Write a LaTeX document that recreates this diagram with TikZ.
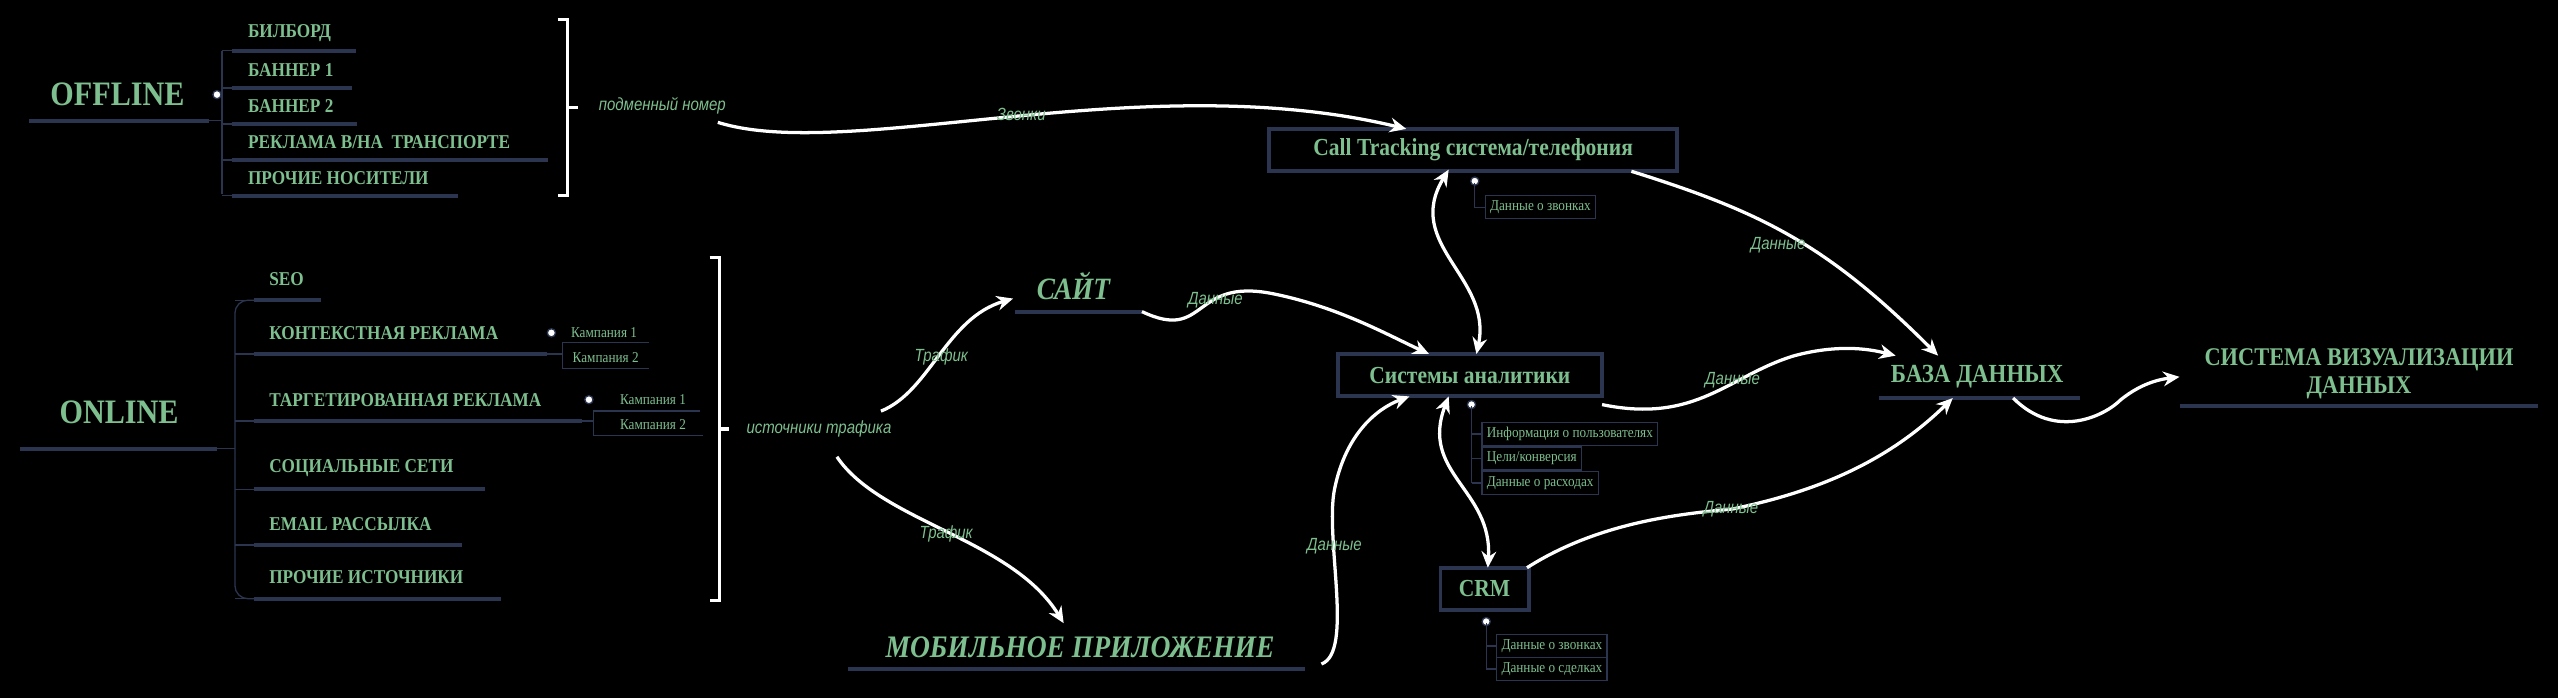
\documentclass[tikz,border=0pt]{standalone}
\usepackage{fontspec}
\setmainfont{Liberation Serif}[FakeStretch=0.88]
\newfontfamily\lblfont{Liberation Sans}[FakeStretch=0.85]
\usetikzlibrary{arrows.meta}
\definecolor{txt}{HTML}{7DBF8E}
\definecolor{nv}{HTML}{2B3550}
\tikzset{
 x=0.5pt,y=-0.5pt,
 big/.style={text=txt,font=\fontsize{10.5}{11}\selectfont\bfseries},
 item/.style={text=txt,font=\fontsize{6}{6.5}\selectfont\bfseries,anchor=west},
 small/.style={text=txt,font=\fontsize{4.6}{5}\selectfont,anchor=west},
 box/.style={draw=nv,line width=1.2pt,text=txt,font=\fontsize{7.5}{8}\selectfont\bfseries,minimum height=13pt,inner sep=2pt},
 sbox/.style={draw=nv,line width=0.4pt,text=txt,font=\fontsize{4.6}{5}\selectfont,anchor=west,inner sep=1.5pt,minimum height=6.2pt},
 ul/.style={nv,line width=1.2pt},
 br/.style={nv,line width=0.4pt},
 bul/.style={circle,fill=white,draw=nv,inner sep=0pt,minimum size=2.5pt},
 ar/.style={white,line width=1pt,-{Stealth[length=5pt,width=4.5pt]}},
 dar/.style={white,line width=1pt,{Stealth[length=5pt,width=4.5pt]}-{Stealth[length=5pt,width=4.5pt]}},
 el/.style={text=txt,font=\lblfont\itshape\fontsize{5.4}{6}\selectfont,inner sep=0pt},
 note/.style={text=txt,font=\lblfont\itshape\fontsize{5.4}{6}\selectfont},
}
\begin{document}
\begin{tikzpicture}
\fill[black] (0,0) rectangle (1568,428);
% OFFLINE
\node[big] (off) at (72,58) {OFFLINE};
\draw[ul] (18,74)--(128,74);
\node[bul] (offb) at (133,58) {};
\draw[br] (128,74)--(136,74) (136,31)--(136,119);
\foreach \y/\e/\t in {20/218/БИЛБОРД,43/216/БАННЕР 1,65/219/БАННЕР 2,87/336/{РЕКЛАМА В/НА\ \ ТРАНСПОРТЕ},109/281/ПРОЧИЕ НОСИТЕЛИ}{
  \node[item] at (145,\y) {\t};
  \draw[ul] (142,\y+11)--(\e,\y+11);
  \draw[br] (136,\y+11)--(142,\y+11);
}
\draw[white,line width=1pt] (342,12)--(348,12)--(348,120)--(342,120) (348,66)--(354,66);
\node[note] (sub) at (406,65) {подменный номер};
% ONLINE
\node[big] (on) at (73,253) {ONLINE};
\draw[ul] (12,275)--(133,275);
\draw[br] (133,275)--(144,275);
\draw[br,rounded corners=4pt] (156,184)--(144,184)--(144,367)--(156,367);
\foreach \y/\e/\t in {171/197/SEO,204/335/КОНТЕКСТНАЯ РЕКЛАМА,245/357/ТАРГЕТИРОВАННАЯ РЕКЛАМА,287/297/СОЦИАЛЬНЫЕ СЕТИ,321/283/EMAIL РАССЫЛКА,354/307/ПРОЧИЕ ИСТОЧНИКИ}{
  \node[item] at (158,\y) {\t};
  \draw[ul] (156,\y+13)--(\e,\y+13);
  \draw[br] (144,\y+13)--(156,\y+13);
}
\node[bul] at (338,204) {};
\draw[br] (335,217)--(345,217) (398,210)--(345,210)--(345,226)--(398,226);
\node[small] at (343,204) {Кампания 1};
\node[small] at (344,219) {Кампания 2};
\node[bul] at (361,245) {};
\draw[br] (357,258)--(364,258) (429,252)--(364,252)--(364,267)--(431,267);
\node[small] at (373,245) {Кампания 1};
\node[small] at (373,260) {Кампания 2};
\draw[white,line width=1pt] (435,158)--(441,158)--(441,368)--(435,368) (441,263)--(447,263);
\node[note] (src) at (502,263) {источники трафика};
% middle
\node[text=txt,font=\fontsize{9.5}{10}\selectfont\bfseries\itshape] (site) at (658,175) {САЙТ};
\draw[ul] (622,191)--(700,191);
\node[text=txt,font=\fontsize{9.6}{10}\selectfont\bfseries\itshape] (mob) at (662,397) {МОБИЛЬНОЕ ПРИЛОЖЕНИЕ};
\draw[ul] (520,410)--(800,410);
\node[box,minimum width=125pt] (ct) at (903,92) {Call Tracking система/телефония};
\node[bul] at (904,111) {};
\draw[br] (904,112)--(904,127)--(910,127);
\node[sbox] at (910,127) {Данные о звонках};
\node[box,minimum width=81pt] (an) at (901,230) {Системы аналитики};
\node[bul] at (902,248) {};
\draw[br] (902,249)--(902,296) (902,266)--(908,266) (902,281)--(908,281) (902,296)--(908,296);
\node[sbox] at (908,266) {Информация о пользователях};
\node[sbox] at (908,281) {Цели/конверсия};
\node[sbox] at (908,296) {Данные о расходах};
\node[box,minimum width=27pt] (crm) at (910,361) {CRM};
\node[bul] at (911,381) {};
\draw[br] (911,382)--(911,410) (911,396)--(917,396) (911,410)--(917,410);
\node[sbox] at (917,396) {Данные о звонках};
\node[sbox] at (917,410) {Данные о сделках};
\node[big,font=\fontsize{8}{9}\selectfont\bfseries] (db) at (1212,231) {БАЗА ДАННЫХ};
\draw[ul] (1152,244)--(1275,244);
\node[big,font=\fontsize{7.8}{8.5}\selectfont\bfseries,align=center] (vis) at (1446,229) {СИСТЕМА ВИЗУАЛИЗАЦИИ\\ДАННЫХ};
\draw[ul] (1336,249)--(1556,249);
% connectors
\coordinate (s1) at (440,75);
\draw[ar] (s1) .. controls (520,100) and (700,40) .. (862,79);
\node[el] at (626,70) {Звонки};
\coordinate (s2) at (540,252);
\draw[ar] (s2) .. controls (570,240) and (580,195) .. (621,183);
\node[el] at (577,219) {Трафик};
\coordinate (s3) at (513,280);
\draw[ar] (s3) .. controls (540,320) and (620,330) .. (652,382);
\node[el] at (580,327) {Трафик};
\coordinate (s4) at (700,191);
\draw[ar] (s4) .. controls (740,210) and (730,170) .. (780,180) .. controls (820,188) and (850,205) .. (876,217);
\node[el] at (745,184) {Данные};
\draw[dar] (888,104) .. controls (860,150) and (915,170) .. (905,217);
\coordinate (c1) at (1000,105);
\draw[ar] (c1) .. controls (1080,130) and (1120,150) .. (1188,218);
\node[el] at (1090,150) {Данные};
\coordinate (a1) at (982,248);
\draw[ar] (a1) .. controls (1040,260) and (1060,230) .. (1100,218) .. controls (1130,210) and (1150,215) .. (1162,218);
\node[el] at (1062,233) {Данные};
\coordinate (m1) at (810,407);
\draw[ar] (m1) .. controls (830,400) and (812,330) .. (818,300) .. controls (825,265) and (845,250) .. (864,243);
\node[el] at (818,335) {Данные};
\draw[dar] (888,243) .. controls (870,290) and (915,300) .. (912,348);
\coordinate (cr1) at (936,348);
\draw[ar] (cr1) .. controls (980,320) and (1030,315) .. (1062,312) .. controls (1120,300) and (1160,280) .. (1197,244);
\node[el] at (1061,312) {Данные};
\coordinate (d1) at (1234,244);
\draw[ar] (d1) .. controls (1260,270) and (1290,255) .. (1300,245) .. controls (1310,237) and (1320,233) .. (1336,231);
\end{tikzpicture}
\end{document}
